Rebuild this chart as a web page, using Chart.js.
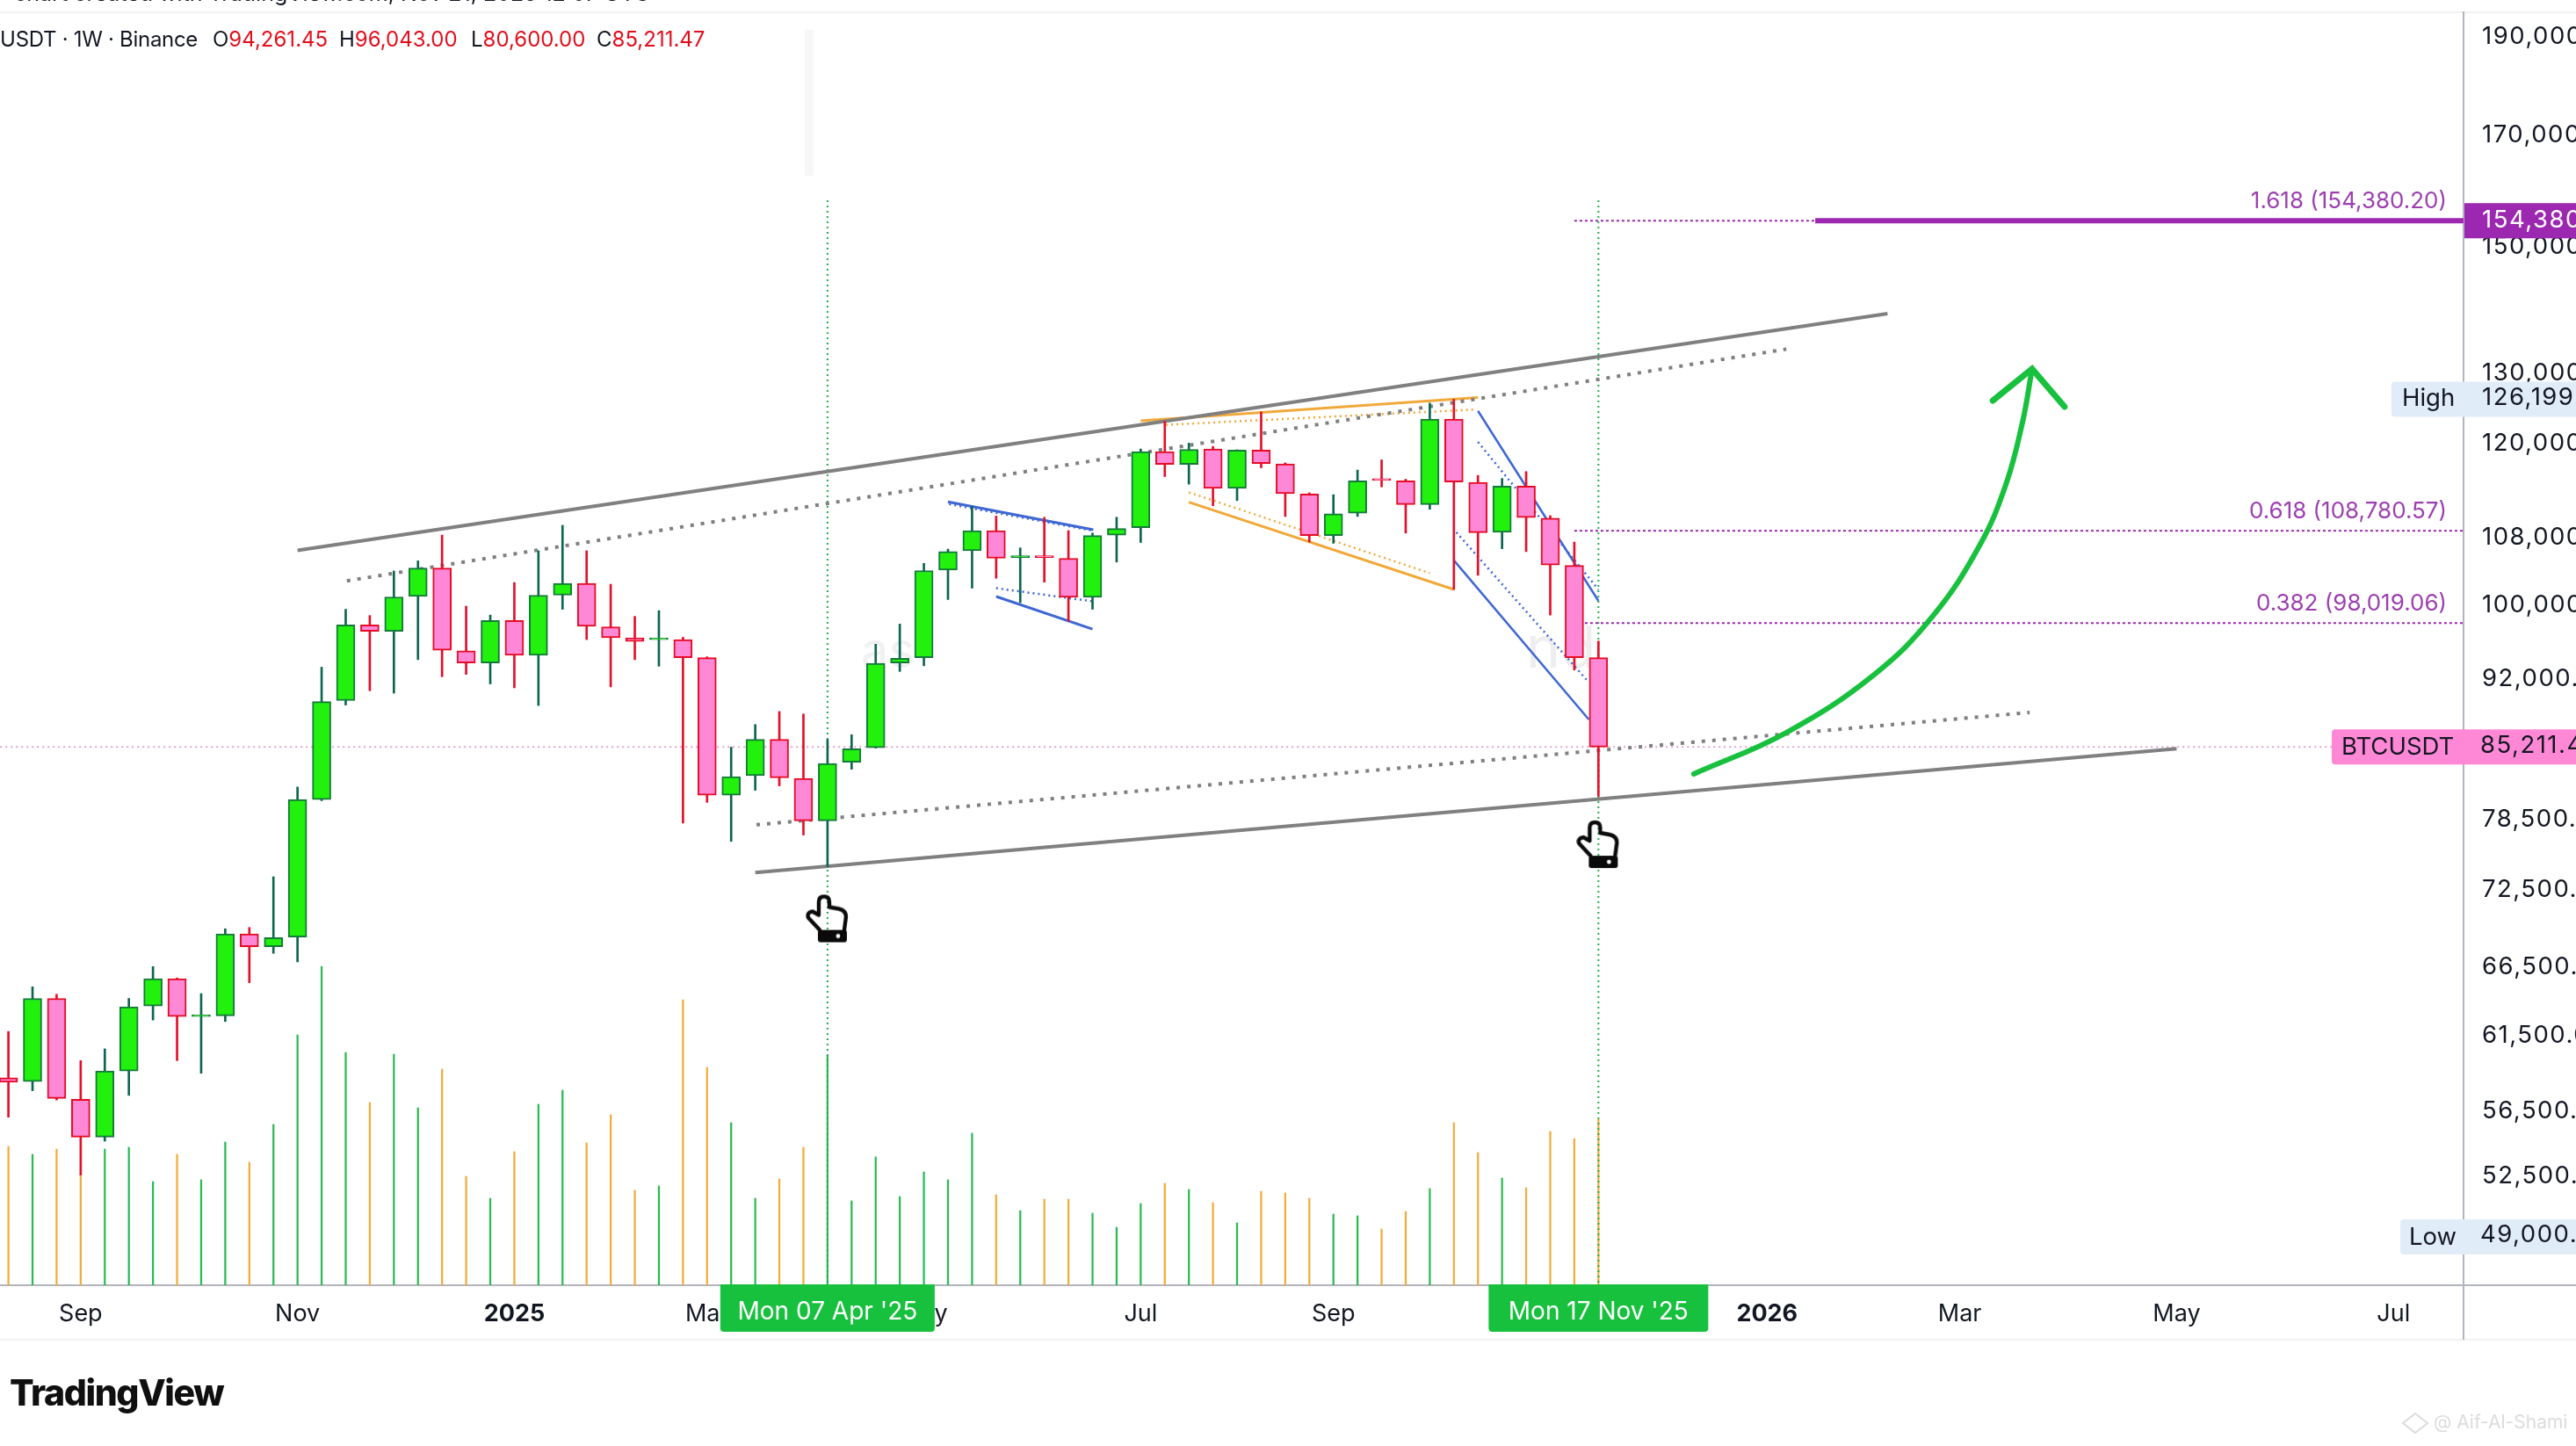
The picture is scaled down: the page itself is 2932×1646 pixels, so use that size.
<!DOCTYPE html>
<html>
<head>
<meta charset="utf-8">
<title>BTCUSDT 1W</title>
<style>
    html, body { margin: 0; padding: 0; background: #fff; overflow: hidden; }
    canvas { display: block; }
</style>
<script src="https://cdn.jsdelivr.net/npm/chart.js@4/dist/chart.umd.js"></script>
</head>
<body>
<canvas id="btcChart" width="2932" height="1646"></canvas>

<script>
    // weekly candles, first bar is the week of 12 Aug 2024, last is 17 Nov 2025
    const opens = [
        58650, 58400, 64150, 57250, 54850, 59100, 63600, 65600, 62850, 62900, 69000, 68000, 68750, 80300,
        89800, 97800, 97100, 101000, 104300, 95000, 93700, 98300, 94500, 101150, 102500, 97600, 96400, 96200,
        96200, 94250, 80700, 82500, 85950, 82250, 78400, 83750, 85150, 93700, 94250, 104050, 106350, 108800,
        105550, 105650, 105450, 100900, 108250, 109150, 118950, 117250, 119300, 114100, 119150, 117300, 113400,
        108200, 110950, 115250, 115100, 112050, 123400, 114900, 108600, 114400, 110350, 104600, 94261.45
    ];
    const highs = [
        61800, 65000, 64450, 59800, 60600, 64150, 66500, 65650, 64500, 69400, 69500, 73600, 81450, 93250,
        99550, 98850, 103950, 105150, 108250, 99900, 98900, 102600, 106350, 109450, 106350, 102400, 98750, 99400,
        96450, 94350, 85200, 87400, 88700, 88450, 85950, 86400, 95700, 97900, 104850, 106550, 111800, 110600,
        106700, 110450, 108800, 108500, 110450, 119300, 123100, 120100, 119650, 119200, 124400, 117450, 113550,
        113300, 116500, 117850, 115300, 125650, 126199, 115800, 115400, 116300, 110650, 107400, 96043
    ];
    const lows = [
        56100, 57800, 57200, 52550, 54600, 57500, 62600, 59800, 58950, 62500, 65300, 67500, 66850, 80200,
        89350, 90800, 90550, 94050, 92250, 92500, 91500, 91100, 89300, 99550, 96200, 91200, 94050, 93350,
        78200, 80050, 76600, 81150, 81550, 77150, 74450, 83100, 85100, 92800, 93400, 100650, 101950, 103100,
        100300, 102650, 98200, 99550, 105000, 107350, 115650, 114650, 111900, 112550, 116800, 110550, 107400,
        107250, 110550, 114300, 108500, 111450, 101800, 103450, 106600, 106250, 98900, 92950, 80600
    ];
    const closes = [
        58350, 64150, 57300, 54850, 59100, 63550, 65600, 62850, 62950, 69000, 68000, 68700, 80300, 89700,
        97800, 97100, 100950, 104300, 95050, 93700, 98300, 94500, 101150, 102500, 97650, 96400, 96000, 96300,
        94250, 80700, 82400, 85950, 82300, 78400, 83650, 85050, 93650, 94200, 104000, 106250, 108800, 105450,
        105650, 105550, 100900, 108200, 109050, 118950, 117250, 119250, 114100, 119150, 117350, 113450, 108200,
        110900, 115100, 115150, 112050, 123400, 114950, 108550, 114400, 110400, 104650, 94250, 85211.47
    ];
    const volumes = [
        158, 149, 155, 126, 155, 157, 118, 149, 120, 163, 140, 183, 285, 363,
        265, 208, 263, 202, 246, 124, 99, 152, 206, 222, 162, 194, 108, 113,
        325, 248, 185, 99, 121, 157, 262, 96, 146, 101, 129, 120, 173, 103,
        85, 98, 98, 82, 66, 93, 116, 109, 94, 71, 107, 105, 99,
        81, 79, 64, 84, 110, 185, 151, 122, 111, 175, 167, 189
    ];

    const xTickBars = [3, 12, 21, 29, 38, 47, 55, 73, 81, 90, 99];
    const xTickLabels = ['Sep', 'Nov', '2025', 'Mar', 'May', 'Jul', 'Sep', '2026', 'Mar', 'May', 'Jul'];
    const boldXTicks = ['2025', '2026'];
    const yTicks = [190000, 170000, 150000, 130000, 120000, 108000, 100000, 92000, 78500, 72500, 66500, 61500, 56500, 52500];

    const lastClose = 85211.47;
    const allTimeHigh = 126199;
    const rangeLow = 49000;

    const fibRatios = ['1.618', '0.618', '0.382'];
    const fibPrices = [154380.20, 108780.57, 98019.06];
    const fibStartBar = 65;
    const fibSolidFromBar = 75;

    const markedBars = [34, 66];
    const markedDates = ["Mon 07 Apr '25", "Mon 17 Nov '25"];
    const handPrices = [70140, 76270];

    // hand drawn channel and pattern lines as [bar, price] pairs
    const upperChannel = [[12, 106400], [78, 139000]];
    const upperChannelDots = [[14.05, 102800], [73.8, 133550]];
    const lowerChannel = [[31, 73950], [90, 85050]];
    const lowerChannelDots = [[31.05, 78050], [83.9, 88600]];

    const flagTop = [[39, 112400], [45.03, 108900]];
    const flagTopDots = [[39.05, 112100], [45, 108800]];
    const flagBottom = [[41, 101000], [45, 97350]];
    const flagBottomDots = [[41, 101950], [45, 100450]];

    const wedgeTop = [[47, 123150], [61, 126450]];
    const wedgeTopDots = [[48.05, 122600], [60.95, 124750]];
    const wedgeBottom = [[49, 112350], [60, 101800]];
    const wedgeBottomDots = [[49, 113600], [59, 103700]];

    const fallTop = [[61, 124550], [66, 100500]];
    const fallTopDots = [[61, 120250], [66, 101800]];
    const fallBottom = [[60, 105200], [65.6, 87900]];
    const fallBottomDots = [[60.1, 108600], [65.5, 91950]];

    const arrowCurve = [[69.96, 82660], [73.79, 86600], [77.44, 92460], [79.89, 98820], [81.82, 106980], [82.92, 114670], [83.6, 122920], [84, 130600]];
    const arrowHead = [[82.37, 126010], [84, 130600], [85.35, 125130]];

    const bars = opens.map((_, i) => i);
    const isUp = i => closes[i] >= opens[i];

    const FONT = 'Inter, "Noto Sans", sans-serif';
    const INK = '#131722';
    const AXIS = '#b2b5be';
    const GREY = '#808080';
    const BLUE = '#3f67d4';
    const ORANGE = '#f1a93a';
    const PURPLE = '#9c27b0';
    const PINK = '#ff88d6';
    const GREEN = '#18c13d';
    const PRICE_SPACING = '1.5px';

    const money = v => v.toLocaleString('en-US', { minimumFractionDigits: 2, maximumFractionDigits: 2 });

    function lineSet(points, color, width, dash, extra) {
        return Object.assign({
            type: 'line',
            data: points.map(p => ({ x: p[0], y: p[1] })),
            borderColor: color,
            borderWidth: width,
            borderDash: dash || [],
            pointRadius: 0,
            tension: 0,
            fill: false,
            order: 3
        }, extra || {});
    }

    // pointer hand marker used for the two swing lows
    function makeHand() {
        const c = document.createElement('canvas');
        c.width = 50;
        c.height = 58;
        const g = c.getContext('2d');
        g.strokeStyle = '#0a0a0a';
        g.lineWidth = 4.4;
        g.lineJoin = 'round';
        g.lineCap = 'round';
        g.beginPath();
        g.moveTo(16, 41);
        g.lineTo(3, 27);
        g.quadraticCurveTo(1, 21, 8, 20);
        g.lineTo(15, 24);
        g.lineTo(15, 9);
        g.quadraticCurveTo(15, 3, 21, 3);
        g.quadraticCurveTo(27, 3, 27, 9);
        g.lineTo(27, 15);
        g.lineTo(38, 17);
        g.quadraticCurveTo(46, 19, 46, 26);
        g.lineTo(44, 41);
        g.stroke();
        g.fillStyle = '#0a0a0a';
        g.beginPath();
        g.roundRect(14, 41, 33, 14, 3);
        g.fill();
        g.fillStyle = '#fff';
        g.beginPath();
        g.arc(37, 48, 2.4, 0, Math.PI * 2);
        g.fill();
        return c;
    }

    function text(ctx, str, x, y, font, color, align) {
        ctx.font = font;
        ctx.fillStyle = color;
        ctx.textAlign = align || 'left';
        ctx.textBaseline = 'middle';
        ctx.fillText(str, x, y);
    }

    function priceText(ctx, value, x, y, font, color) {
        ctx.letterSpacing = PRICE_SPACING;
        text(ctx, money(value), x, y, font, color);
        ctx.letterSpacing = '0px';
    }

    function tag(ctx, x, y, w, h, color, radii) {
        ctx.fillStyle = color;
        ctx.beginPath();
        ctx.roundRect(x, y, w, h, radii);
        ctx.fill();
    }

    const pagePlugin = {
        id: 'page',
        beforeDraw(chart) {
            const ctx = chart.ctx;
            ctx.save();
            ctx.fillStyle = '#fff';
            ctx.fillRect(0, 0, chart.width, chart.height);
            // pane frame and the strip under the time axis
            ctx.fillStyle = '#f1f1f3';
            ctx.fillRect(0, 13, chart.width, 2);
            ctx.fillRect(0, 1524, chart.width, 2);
            ctx.fillStyle = '#f7f7fa';
            ctx.fillRect(916, 34, 10, 166);
            // remains of the pane watermark
            text(ctx, 'as', 980, 743, '56px ' + FONT, '#f1f1f1');
            text(ctx, 'nd', 1737, 740, '66px ' + FONT, '#eeeeee');
            ctx.restore();
        },
        // y tick labels sit on a layer above the datasets, so this spacing only reaches them
        afterDatasetsDraw(chart) {
            chart.ctx.letterSpacing = PRICE_SPACING;
        },
        afterDraw(chart) {
            const ctx = chart.ctx;
            const y = chart.scales.y;
            const x = chart.scales.x;
            ctx.letterSpacing = '0px';
            ctx.save();

            ctx.fillStyle = AXIS;
            ctx.fillRect(2803, 1463, 2, 62);
            ctx.fillRect(2804, 1462, 128, 2);

            // fib labels above their levels
            const fibFont = '26px ' + FONT;
            fibRatios.forEach((r, i) => {
                text(ctx, `${r} (${money(fibPrices[i])})`, 2785, y.getPixelForValue(fibPrices[i]) - 22, fibFont, '#9c3fb0', 'right');
            });

            // price scale tags
            const tagFont = '27.5px ' + FONT;
            const fibY = y.getPixelForValue(fibPrices[0]);
            tag(ctx, 2805, fibY - 20, 127, 40, PURPLE, 0);
            priceText(ctx, fibPrices[0], 2825, fibY - 1, tagFont, '#fff');

            const highY = y.getPixelForValue(allTimeHigh);
            tag(ctx, 2722, highY - 20, 210, 40, '#e1ecf9', [4, 0, 0, 4]);
            text(ctx, 'High', 2734, highY - 1, tagFont, INK);
            priceText(ctx, allTimeHigh, 2825, highY - 2, tagFont, INK);

            const lastY = y.getPixelForValue(lastClose);
            tag(ctx, 2654, lastY - 20, 278, 40, PINK, [4, 0, 0, 4]);
            text(ctx, 'BTCUSDT', 2665, lastY, tagFont, INK);
            priceText(ctx, lastClose, 2823, lastY - 2, tagFont, INK);

            const lowY = y.getPixelForValue(rangeLow);
            tag(ctx, 2732, lowY - 20, 200, 40, '#e1ecf9', [4, 0, 0, 4]);
            text(ctx, 'Low', 2742, lowY + 1, tagFont, INK);
            priceText(ctx, rangeLow, 2823, lowY - 2, tagFont, INK);

            // crosshair date tags on the time axis
            markedBars.forEach((bar, i) => {
                const cx = x.getPixelForValue(bar);
                const w = i === 0 ? 244 : 250;
                tag(ctx, cx - w / 2, 1462, w, 54, GREEN, [0, 0, 4, 4]);
                text(ctx, markedDates[i], cx, 1494, '28px ' + FONT, '#fff', 'center');
            });

            // legend line, symbol runs off the left edge
            const head = '24px ' + FONT;
            ctx.font = head;
            const sym = ctx.measureText('BTC').width;
            ctx.letterSpacing = '-0.3px';
            text(ctx, 'BTCUSDT · 1W · Binance', -sym + 1, 46, head, INK);
            ctx.letterSpacing = '0px';
            const ohlc = [['O', 242, opens], ['H', 386, highs], ['L', 536, lows], ['C', 679, closes]];
            ohlc.forEach(([k, px, arr]) => {
                text(ctx, k, px, 46, head, INK);
                ctx.font = head;
                const w = ctx.measureText(k).width;
                text(ctx, money(arr[arr.length - 1]), px + w, 46, head, '#e0101e');
            });

            // snapshot caption cut by the top edge
            ctx.font = '25px ' + FONT;
            ctx.fillStyle = INK;
            ctx.textAlign = 'left';
            ctx.textBaseline = 'alphabetic';
            ctx.fillText('chart created with TradingView.com, Nov 21, 2025 12:07 UTC', 16, 1);

            // logo
            ctx.letterSpacing = '-1.4px';
            text(ctx, 'TradingView', 11, 1588, '800 41px ' + FONT, '#0f0f0f');
            ctx.letterSpacing = '0px';

            // author mark bottom right
            text(ctx, '@ Aif-Al-Shami', 2770, 1620, '21px ' + FONT, '#dcdcdc');
            ctx.strokeStyle = '#dcdcdc';
            ctx.lineWidth = 2;
            ctx.beginPath();
            ctx.moveTo(2749, 1609);
            ctx.lineTo(2763, 1620);
            ctx.lineTo(2749, 1631);
            ctx.lineTo(2735, 1620);
            ctx.closePath();
            ctx.stroke();

            ctx.restore();
        }
    };

    const chart = new Chart(document.getElementById('btcChart'), {
        type: 'bar',
        data: {
            datasets: [
                // candle bodies
                {
                    data: bars.map(i => ({ x: i, y: [opens[i], closes[i]] })),
                    backgroundColor: bars.map(i => isUp(i) ? '#21f10c' : PINK),
                    borderColor: bars.map(i => isUp(i) ? '#137a39' : '#e50b26'),
                    borderWidth: 2,
                    borderSkipped: false,
                    barThickness: 21,
                    minBarLength: 2,
                    grouped: false,
                    order: 1
                },
                // wicks
                {
                    data: bars.map(i => ({ x: i, y: [lows[i], highs[i]] })),
                    backgroundColor: bars.map(i => isUp(i) ? '#0d6650' : '#e3102a'),
                    barThickness: 2,
                    grouped: false,
                    order: 2
                },
                // volume
                {
                    data: bars.map(i => ({ x: i, y: volumes[i] })),
                    yAxisID: 'vol',
                    backgroundColor: bars.map(i => isUp(i) ? '#2dba54' : '#f2ac3c'),
                    barThickness: 1.6,
                    grouped: false,
                    order: 6
                },

                lineSet(upperChannel, GREY, 4),
                lineSet(upperChannelDots, GREY, 4, [4, 8]),
                lineSet(lowerChannel, GREY, 4),
                lineSet(lowerChannelDots, GREY, 4, [4, 8]),

                lineSet(flagTop, BLUE, 3),
                lineSet(flagTopDots, BLUE, 2.5, [2, 4]),
                lineSet(flagBottom, BLUE, 3),
                lineSet(flagBottomDots, BLUE, 2.5, [2, 4]),

                lineSet(wedgeTop, ORANGE, 3),
                lineSet(wedgeTopDots, ORANGE, 2.5, [2, 4]),
                lineSet(wedgeBottom, ORANGE, 3),
                lineSet(wedgeBottomDots, ORANGE, 2.5, [2, 4]),

                lineSet(fallTop, BLUE, 2.5),
                lineSet(fallTopDots, BLUE, 2.5, [2, 4]),
                lineSet(fallBottom, BLUE, 2.5),
                lineSet(fallBottomDots, BLUE, 2.5, [2, 4]),

                // fib levels
                lineSet([[fibStartBar, fibPrices[0]], [fibSolidFromBar, fibPrices[0]]], PURPLE, 2, [3, 3], { order: 4 }),
                lineSet([[fibSolidFromBar, fibPrices[0]], [102, fibPrices[0]]], PURPLE, 6, [], { order: 4 }),
                lineSet([[fibStartBar, fibPrices[1]], [102, fibPrices[1]]], PURPLE, 2, [3, 3], { order: 4 }),
                lineSet([[fibStartBar, fibPrices[2]], [102, fibPrices[2]]], PURPLE, 2, [3, 3], { order: 4 }),

                // last price
                lineSet([[-1, lastClose], [97, lastClose]], '#e2a3d2', 2, [2, 4], { order: 5 }),

                // crosshair lines on the two marked weeks
                lineSet([[markedBars[0], 158000], [markedBars[0], 46500]], '#22ae4d', 2, [2, 4], { order: 5 }),
                lineSet([[markedBars[1], 158000], [markedBars[1], 46500]], '#22ae4d', 2, [2, 4], { order: 5 }),

                // projected move
                lineSet(arrowCurve, GREEN, 6, [], { tension: 0.4, borderCapStyle: 'round', order: 0 }),
                lineSet(arrowHead, GREEN, 7, [], { borderCapStyle: 'round', borderJoinStyle: 'miter', order: 0 }),

                {
                    type: 'scatter',
                    data: markedBars.map((b, i) => ({ x: b, y: handPrices[i] })),
                    pointStyle: makeHand(),
                    pointRadius: 20,
                    order: 0
                }
            ]
        },
        options: {
            responsive: false,
            animation: false,
            devicePixelRatio: 1,
            layout: { autoPadding: false, padding: { top: 14, bottom: 121, left: 0, right: 0 } },
            plugins: { legend: { display: false }, tooltip: { enabled: false } },
            events: [],
            scales: {
                x: {
                    type: 'linear',
                    offset: false,
                    min: -0.35,
                    max: 101.91,
                    grid: { display: false },
                    border: { color: AXIS, width: 2 },
                    afterBuildTicks: s => { s.ticks = xTickBars.map(v => ({ value: v })); },
                    afterFit: s => {
                        s.height = 62;
                        s.paddingLeft = s.paddingRight = 0;
                    },
                    ticks: {
                        autoSkip: false,
                        maxRotation: 0,
                        padding: 9,
                        color: INK,
                        font: c => ({
                            family: FONT,
                            size: 27,
                            weight: boldXTicks.includes(xTickLabels[xTickBars.indexOf(c.tick && c.tick.value)]) ? '700' : '400'
                        }),
                        callback: v => xTickLabels[xTickBars.indexOf(v)]
                    }
                },
                y: {
                    type: 'logarithmic',
                    position: 'right',
                    min: 46402,
                    max: 195352,
                    grid: { display: false },
                    border: { color: AXIS, width: 2 },
                    afterBuildTicks: s => { s.ticks = yTicks.map(v => ({ value: v })); },
                    afterFit: s => {
                        s.width = 128;
                        s.paddingTop = s.paddingBottom = 0;
                    },
                    ticks: {
                        autoSkip: false,
                        padding: 13,
                        z: 1,
                        color: INK,
                        font: { family: FONT, size: 27.5 },
                        callback: v => money(v)
                    }
                },
                vol: {
                    type: 'linear',
                    display: false,
                    min: 0,
                    max: 1449,
                    ticks: { display: false },
                    afterFit: s => {
                        s.width = 0;
                        s.paddingTop = s.paddingBottom = s.paddingLeft = s.paddingRight = 0;
                    }
                }
            }
        },
        plugins: [pagePlugin]
    });
</script>
</body>
</html>
